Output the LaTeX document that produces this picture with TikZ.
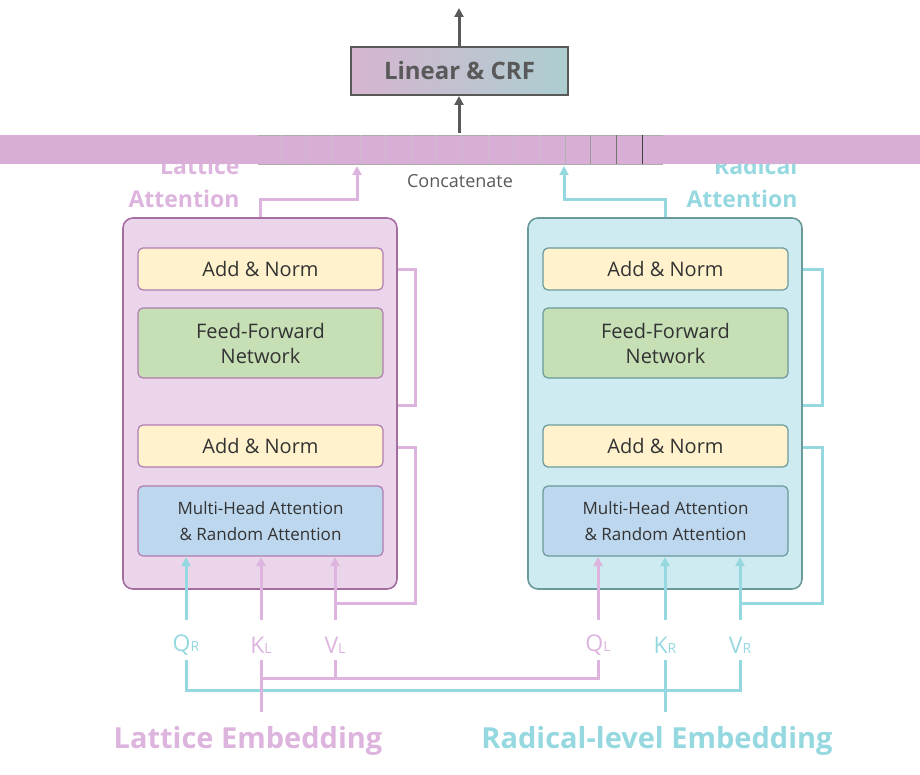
\documentclass[tikz,border=0pt]{standalone}
\usepackage{fontspec}
\setmainfont{Open Sans}
\usetikzlibrary{arrows.meta}
\definecolor{rosett}{HTML}{DDB4DE}
\definecolor{rosebar}{HTML}{D8ADD6}
\definecolor{bleutt}{HTML}{96D8E0}
\definecolor{grisfl}{HTML}{595959}
\definecolor{jaune}{HTML}{FFF2CC}
\definecolor{vertbx}{HTML}{C6DFB5}
\definecolor{bleubx}{HTML}{BDD7EE}
\tikzset{
  fl/.style={line width=3pt},
  flr/.style={fl,rosett},
  flb/.style={fl,bleutt},
  pointe/.style={-{Triangle[length=9pt,width=9pt]}},
  module/.style={rounded corners=10pt,line width=1.6pt},
  boite/.style={rounded corners=5pt,line width=1.2pt,minimum width=245pt,text=black!80},
  lab/.style={font=\fontsize{20}{25}\selectfont,align=center}
}
\newcommand{\qkv}[2]{{\fontsize{23}{23}\selectfont #1}{\fontsize{14}{14}\selectfont #2}}
\begin{document}
\begin{tikzpicture}[x=1pt,y=-1pt]
\useasboundingbox (0,0) rectangle (920,775);

% connecteurs gauche
\draw[flr,pointe] (260,248) |- (357,200) -- (357,166);
\draw[flr] (260,290) -- (260,308) (260,378) -- (260,425) (260,467) -- (260,486);
\draw[flr,pointe] (260,405) -- (415,405) -- (415,270) -- (383,270);
\draw[flr,pointe] (335,603) -- (415,603) -- (415,447) -- (383,447);
% connecteurs droite
\draw[flb,pointe] (665,248) |- (564,200) -- (564,166);
\draw[flb] (665,290) -- (665,308) (665,378) -- (665,425) (665,467) -- (665,486);
\draw[flb,pointe] (665,405) -- (822,405) -- (822,270) -- (788,270);
\draw[flb,pointe] (740,603) -- (822,603) -- (822,447) -- (788,447);

% modules
\draw[module,fill={rgb,255:red,235;green,213;blue,235},draw={rgb,255:red,165;green,109;blue,160}] (123,218) rectangle (397,589);
\draw[module,fill={rgb,255:red,205;green,235;blue,240},draw={rgb,255:red,106;green,154;blue,154}] (528,218) rectangle (802,589);

\foreach \nom/\x/\bord in {G/260.5/{rgb,255:red,176;green,125;blue,176},D/665.5/{rgb,255:red,106;green,154;blue,154}}{
  \node[boite,lab,fill=jaune,draw=\bord,minimum height=42pt] (an2\nom) at (\x,269) {Add \& Norm};
  \node[boite,lab,fill=vertbx,draw=\bord,minimum height=70pt] (ffn\nom) at (\x,343) {Feed-Forward\\Network};
  \node[boite,lab,fill=jaune,draw=\bord,minimum height=42pt] (an1\nom) at (\x,446) {Add \& Norm};
  \node[boite,fill=bleubx,draw=\bord,minimum height=70pt,align=center,font=\fontsize{17}{26}\selectfont] (mha\nom) at (\x,521) {Multi-Head Attention\\\& Random Attention};
}

% entrees
\draw[flb,pointe] (186,620) -- (186,557);
\draw[flr,pointe] (261,620) -- (261,557);
\draw[flr,pointe] (335,620) -- (335,557);
\draw[flr,pointe] (598,620) -- (598,557);
\draw[flb,pointe] (665,620) -- (665,557);
\draw[flb,pointe] (740,620) -- (740,557);

\node[bleutt] (qr) at (186,645) {\qkv{Q}{R}};
\node[rosett] (kl) at (261,645) {\qkv{K}{L}};
\node[rosett] (vl) at (335,645) {\qkv{V}{L}};
\node[rosett] (ql) at (598,645) {\qkv{Q}{L}};
\node[bleutt] (kr) at (665,645) {\qkv{K}{R}};
\node[bleutt] (vr) at (740,645) {\qkv{V}{R}};

% lignes du bas
\draw[flb] (186,660) |- (740,690) -- (740,660);
\draw[flb] (665,660) -- (665,712);
\draw[flr] (261,660) -- (261,712);
\draw[flr] (261,678) -| (598,660);
\draw[flr] (335,660) -- (335,678);

\node[rosett,font=\fontsize{29}{29}\selectfont\bfseries] (embL) at (248,741) {Lattice Embedding};
\node[bleutt,font=\fontsize{29}{29}\selectfont\bfseries] (embR) at (657,741) {Radical-level Embedding};

% titres
\node[rosett,font=\fontsize{23}{33}\selectfont\bfseries,align=right,anchor=east] (attL) at (243,182) {Lattice\\Attention};
\node[bleutt,font=\fontsize{23}{33}\selectfont\bfseries,align=right,anchor=east] (attR) at (801,182) {Radical\\Attention};

% barre
\fill[rosebar] (0,135) rectangle (920,164);
\draw[grisfl!50,line width=0.8pt] (258,135) -- (663,135) (258,164) -- (663,164);
\foreach \x in {281,306,331,360,385,411,435,461,488,514,539}
  \draw[rosebar!80!black!60,line width=0.4pt] (\x,135) -- (\x,164);
\foreach \x/\t in {565/30,590/40,616/55,642/75}
  \draw[black!\t,line width=0.8pt] (\x,135) -- (\x,164);
\node[grisfl,font=\fontsize{18}{18}\selectfont] (concat) at (460,181) {Concatenate};

% sortie
\shade[left color={rgb,255:red,214;green,181;blue,208},right color={rgb,255:red,172;green,206;blue,208}] (351,47) rectangle (568,95);
\draw[grisfl,line width=1.6pt] (351,47) rectangle (568,95);
\node[grisfl,font=\fontsize{24}{24}\selectfont\bfseries] (crf) at (459.5,71) {Linear \& CRF};
\draw[grisfl,fl,pointe] (459,133) -- (459,96);
\draw[grisfl,fl,pointe] (459,47) -- (459,8);
\end{tikzpicture}
\end{document}
